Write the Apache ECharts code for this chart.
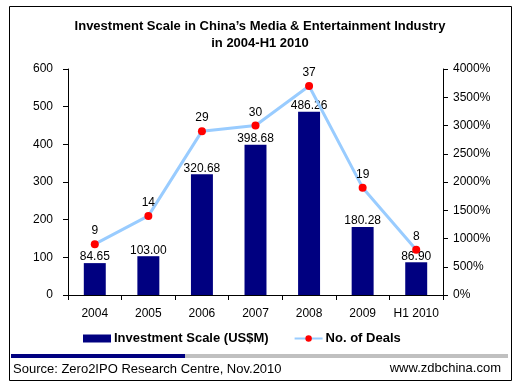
<!DOCTYPE html>
<html><head><meta charset="utf-8">
<script src="https://cdn.jsdelivr.net/npm/echarts@6/dist/echarts.min.js"></script>
<style>html,body{margin:0;padding:0;background:#fff}#c{width:520px;height:389px}</style>
</head><body><div id="c"></div>
<script>
var categories = ['2004','2005','2006','2007','2008','2009','H1 2010'];
var investment = [84.65, 103.00, 320.68, 398.68, 486.26, 180.28, 86.90];
var deals = [9, 14, 29, 30, 37, 19, 8];
var leftTicks = {min:0, max:600, interval:100};
var rightTicks = {min:0, max:4000, interval:500};

var F = 'Liberation Sans, Arial, sans-serif';
var chart = echarts.init(document.getElementById('c'), null, {renderer:'canvas'});
chart.setOption({
  animation:false,
  backgroundColor:'#fff',
  textStyle:{fontFamily:F},
  title:{
    text:"Investment Scale in China\u2019s Media & Entertainment Industry\nin 2004-H1 2010",
    left:'center', top:13,
    textStyle:{fontSize:13, fontWeight:'bold', color:'#000', fontFamily:F, lineHeight:17}
  },
  legend:{
    top:327, left:78, itemGap:25, itemWidth:28, itemHeight:8,
    textStyle:{fontSize:13, fontWeight:'bold', color:'#000', fontFamily:F, padding:[0,0,0,-2]},
    data:[{name:'Investment Scale (US$M)', icon:'rect'}, {name:'No. of Deals'}]
  },
  grid:{left:68, right:77, top:69, bottom:94},
  xAxis:{
    type:'category', data:categories, boundaryGap:true,
    axisLine:{lineStyle:{color:'#000', width:1}},
    axisTick:{show:true, length:5, lineStyle:{color:'#000'}},
    axisLabel:{color:'#000', fontSize:12, margin:13, fontFamily:F, interval:0}
  },
  yAxis:[{
    type:'value', min:leftTicks.min, max:leftTicks.max, interval:leftTicks.interval,
    axisLine:{show:true, lineStyle:{color:'#000'}},
    axisTick:{show:true, length:5, lineStyle:{color:'#000'}},
    splitLine:{show:false},
    axisLabel:{color:'#000', fontSize:12, margin:15, fontFamily:F}
  },{
    type:'value', min:rightTicks.min, max:rightTicks.max, interval:rightTicks.interval,
    position:'right',
    axisLine:{show:true, lineStyle:{color:'#000'}},
    axisTick:{show:true, length:5, lineStyle:{color:'#000'}},
    splitLine:{show:false},
    axisLabel:{color:'#000', fontSize:12, margin:10, fontFamily:F,
      formatter:function(v){return v + '%';}}
  }],
  series:[{
    name:'Investment Scale (US$M)', type:'bar', data:investment, yAxisIndex:0,
    barWidth:'41%',
    itemStyle:{color:'#000080'},
    label:{show:true, position:'top', distance:0, color:'#000', fontSize:12, fontFamily:F,
      formatter:function(p){return p.value.toFixed(2);}}
  },{
    name:'No. of Deals', type:'line', yAxisIndex:1,
    data:deals.map(function(d){return d*100;}),
    lineStyle:{color:'#99CCFF', width:3},
    itemStyle:{color:'#FF0000'},
    symbol:'circle', symbolSize:8,
    label:{show:true, position:'top', distance:3, color:'#000', fontSize:12, fontFamily:F,
      formatter:function(p){return deals[p.dataIndex];}},
    z:3
  }],
  graphic:[
    {type:'rect', shape:{x:9.5, y:6.5, width:502, height:374}, style:{fill:null, stroke:'#000', lineWidth:1}, silent:true, z:-1},
    {type:'rect', shape:{x:11, y:354, width:174, height:4}, style:{fill:'#000080'}},
    {type:'rect', shape:{x:185, y:354, width:323, height:4}, style:{fill:'#C0C0C0'}},
    {type:'text', left:13, top:363, style:{text:'Source: Zero2IPO Research Centre, Nov.2010', fill:'#000', font:'13px '+F}},
    {type:'text', right:19, top:362, style:{text:'www.zdbchina.com', fill:'#000', font:'13px '+F}}
  ]
});
</script></body></html>
